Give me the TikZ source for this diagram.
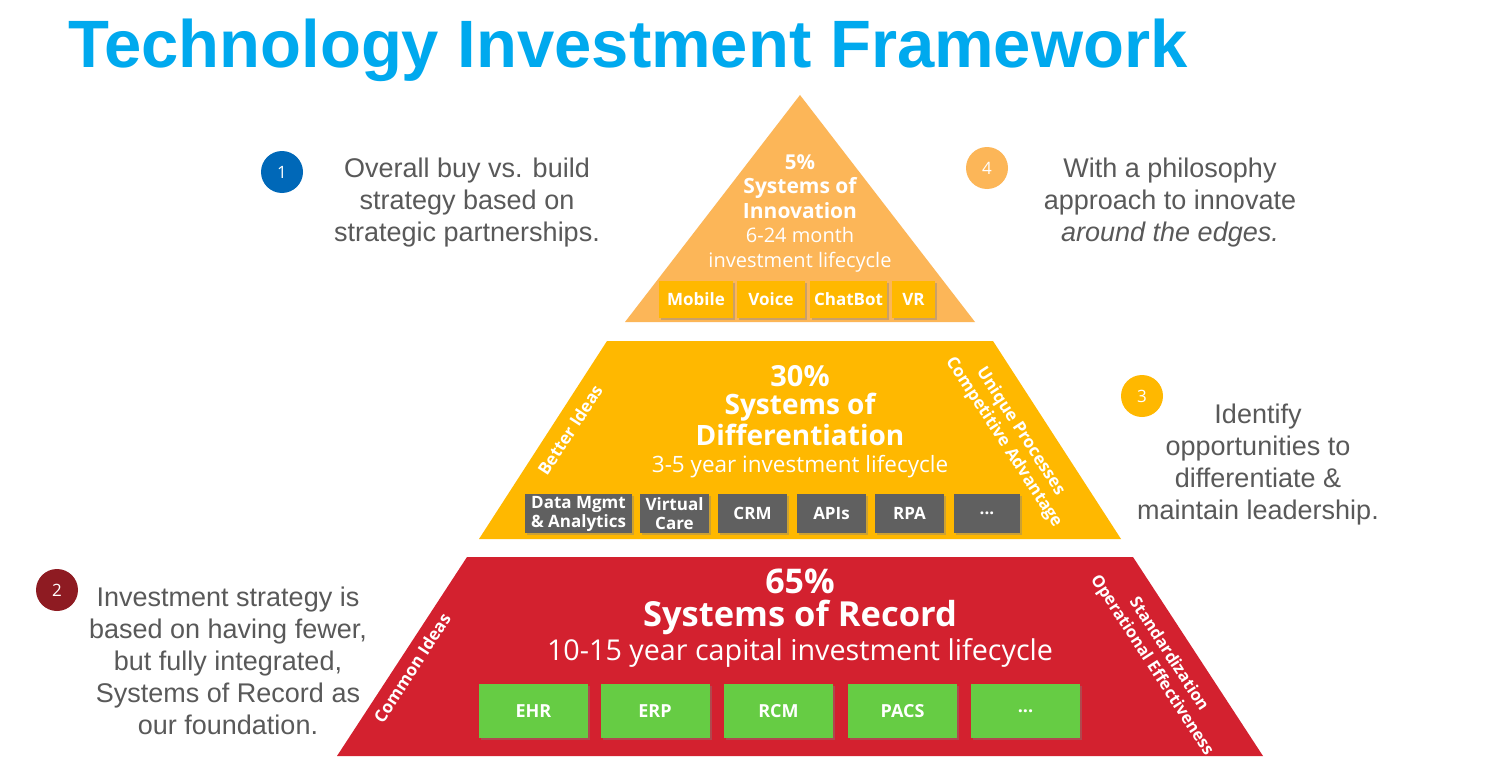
\documentclass[tikz,border=0pt]{standalone}
\usepackage{fontspec}
\setmainfont{Liberation Sans}
\newfontfamily\segoe{Open Sans}
\usetikzlibrary{shadows}
\definecolor{titleblue}{RGB}{0,169,238}
\definecolor{notegray}{RGB}{89,89,89}
\definecolor{innov}{RGB}{252,182,88}
\definecolor{differ}{RGB}{255,184,0}
\definecolor{record}{RGB}{211,33,47}
\definecolor{tilegray}{RGB}{96,96,96}
\definecolor{tilegreen}{RGB}{102,204,68}
\definecolor{onecol}{RGB}{0,104,184}
\definecolor{twocol}{RGB}{142,27,34}
\newcommand\fsz[2]{\fontsize{#1}{#2}\selectfont}
\newcommand\moredots{...}
\begin{document}
\begin{tikzpicture}[x=1pt,y=-1pt,
	note/.style={text=notegray,align=center,font=\fsz{27}{32}},
	badge/.style={circle,fill=#1,minimum size=42pt,inner sep=0pt,text=white,font=\segoe\fsz{17}{17}},
	head/.style={text=white,anchor=base,inner sep=0pt,font=\segoe\bfseries\fsz{#1}{#1}},
	life/.style={text=white,anchor=base,inner sep=0pt,font=\segoe\fsz{#1}{#1}},
	tile/.style={fill=#1,text=white,inner sep=0pt,align=center,font=\segoe\bfseries\fsz{17}{19},
		drop shadow={shadow xshift=2pt,shadow yshift=-2pt,opacity=0.4}},
	side/.style={text=white,align=center,inner sep=0pt,font=\segoe\bfseries\fsz{17}{20}}]
	\fill[white] (0,0) rectangle (1500,784);
	\useasboundingbox (0,0) rectangle (1500,784);

	\node[anchor=base west,inner sep=0pt,text=titleblue,font=\bfseries\fsz{67}{67}] (title) at (68,67) {Technology Investment Framework};

	% pyramid
	\fill[innov] (800,95) -- (975,322) -- (625,322) -- cycle;
	\fill[differ] (607,341) -- (993,341) -- (1121,539) -- (479,539) -- cycle;
	\fill[record] (467,557) -- (1133,557) -- (1263,756) -- (337,756) -- cycle;

	% systems of innovation
	\node[head=20.5] (inn0) at (800,169) {5\%};
	\node[head=21] (inn1) at (800,193) {Systems of};
	\node[head=21] (inn2) at (800,218) {Innovation};
	\node[life=20] (inn3) at (800,242) {6-24 month};
	\node[life=20] (inn4) at (800,267) {investment lifecycle};
	\foreach \n/\x/\w/\t in {mobile/696/74/Mobile,voice/771/68/Voice,chatbot/848.5/77/ChatBot,vr/913.5/43/VR}
		\node[tile=differ,minimum width=\w pt,minimum height=37pt] (\n) at (\x,299.5) {\t};

	% systems of differentiation
	\node[head=29] (dif0) at (800,386) {30\%};
	\node[head=28] (dif1) at (800,414) {Systems of};
	\node[head=28] (dif2) at (800,445) {Differentiation};
	\node[life=22.5] (dif3) at (800,472) {3-5 year investment lifecycle};
	\foreach \n/\x/\w/\t in {data/578.5/107/{Data Mgmt\\\& Analytics},virtual/674.5/69/{Virtual\\Care},crm/752.5/69/CRM,apis/831.5/69/APIs,rpa/909.5/69/RPA,moredif/987/66/\moredots}
		\node[tile=tilegray,minimum width=\w pt,minimum height=39pt] (\n) at (\x,513.5) {\t};
	\node[side,rotate=57] (better) at (570,430) {Better Ideas};
	\node[side,rotate=-57] (unique) at (1012,437) {Unique Processes\\Competitive Advantage};

	% systems of record
	\node[head=34] (rec0) at (800,593) {65\%};
	\node[head=34.5] (rec1) at (800,626) {Systems of Record};
	\node[life=28.7] (rec2) at (800,660) {10-15 year capital investment lifecycle};
	\foreach \n/\x/\t in {ehr/533.5/EHR,erp/655/ERP,rcm/778.5/RCM,pacs/902.5/PACS,morerec/1025.5/\moredots}
		\node[tile=tilegreen,minimum width=109pt,minimum height=54pt,font=\segoe\bfseries\fsz{18}{20}] (\n) at (\x,711) {\t};
	\node[side,rotate=57] (common) at (412,668) {Common Ideas};
	\node[side,rotate=-57,font=\segoe\bfseries\fsz{16.5}{20}] (standard) at (1160,660) {Standardization\\Operational Effectiveness};

	% notes
	\node[badge=onecol] (b1) at (282,172) {1};
	\node[note] (n1) at (467,203) {Overall buy vs. build\\strategy based on\\strategic partnerships.};
	\node[badge=innov] (b4) at (987,168) {4};
	\node[note] (n4) at (1170,203) {With a philosophy\\approach to innovate\\\textit{around the edges.}};
	\node[badge=differ] (b3) at (1142,396) {3};
	\node[note] (n3) at (1258,465) {Identify\\opportunities to\\differentiate \&\\maintain leadership.};
	\node[badge=twocol] (b2) at (57,590) {2};
	\node[note] (n2) at (228,661) {Investment strategy is\\based on having fewer,\\but fully integrated,\\Systems of Record as\\our foundation.};
\end{tikzpicture}
\end{document}
